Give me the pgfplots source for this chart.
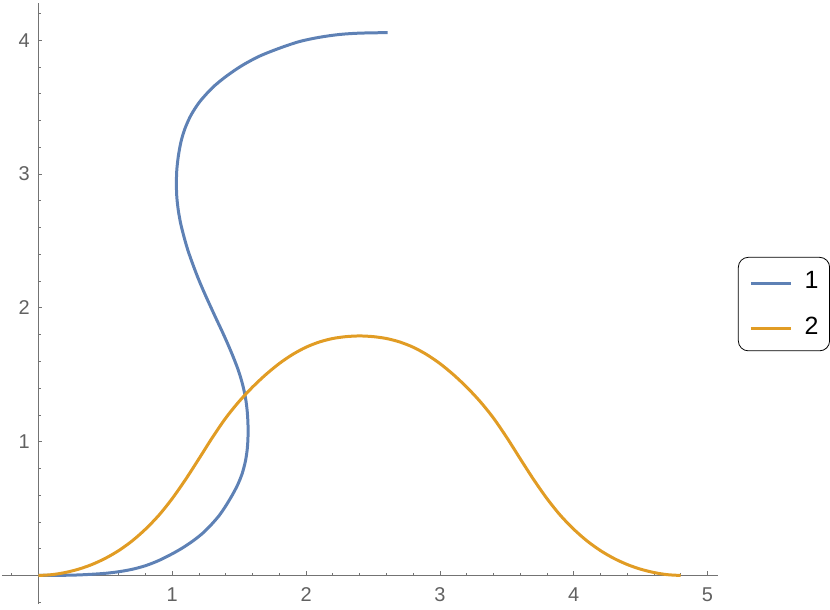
\documentclass[border=0pt]{standalone}
\usepackage{pgfplots}
\pgfplotsset{compat=1.18}
\usepackage{fontspec}
\setmainfont{Liberation Sans}
\definecolor{mblue}{rgb}{0.368417,0.506779,0.709798}
\definecolor{morange}{rgb}{0.880722,0.611041,0.142051}
\definecolor{axgray}{rgb}{0.45,0.45,0.45}
\definecolor{lblgray}{rgb}{0.38,0.38,0.38}
\begin{document}
\begin{tikzpicture}
\begin{axis}[
  x=134bp, y=134bp,
  xmin=-0.273, xmax=5.08, ymin=-0.214, ymax=4.28,
  axis lines=middle,
  axis line style={-, draw=axgray, line width=0.8bp},
  every inner x axis line/.append style={-},
  every inner y axis line/.append style={-},
  tick align=inside,
  major tick length=4bp, minor tick length=2.5bp,
  tick style={draw=axgray, line width=0.7bp},
  xtick={1,2,3,4,5}, ytick={1,2,3,4},
  minor xtick={-0.2,0.2,0.4,0.6,0.8,1.2,1.4,1.6,1.8,2.2,2.4,2.6,2.8,3.2,3.4,3.6,3.8,4.2,4.4,4.6,4.8},
  minor ytick={-0.2,0.2,0.4,0.6,0.8,1.2,1.4,1.6,1.8,2.2,2.4,2.6,2.8,3.2,3.4,3.6,3.8,4.2},
  /pgf/number format/assume math mode=true,
  ticklabel style={font=\fontsize{20bp}{24bp}\selectfont, text=lblgray, inner sep=0pt},
  xticklabel style={anchor=north, yshift=-12bp},
  yticklabel style={anchor=east, xshift=-8.5bp},
  clip=false,
  legend style={at={(axis cs:5.2276,2.3806)}, anchor=north west,
    draw=black, line width=0.8bp, rounded corners=10bp,
    inner xsep=11bp, inner ysep=14.5bp, row sep=27bp,
    font=\fontsize{25bp}{30bp}\selectfont,
    nodes={inner sep=0pt},
    /tikz/every odd column/.append style={column sep=12.5bp}},
  legend cell align=left,
  legend image code/.code={\draw[#1] (0bp,-2bp) -- (40bp,-2bp); \path (0bp,2bp);},
]
\path (axis cs:-0.2873,-0.2515) rectangle (axis cs:5.907,4.3007);
\addplot[mblue, line width=3bp, smooth, line join=round] coordinates {
(0,0) (0.2,0.0015) (0.3,0.004) (0.4,0.009) (0.5,0.016) (0.6,0.028) (0.7,0.046)
(0.8,0.073) (0.9,0.112) (1.0,0.162) (1.08,0.208) (1.16,0.262) (1.23,0.318)
(1.29,0.378) (1.35,0.447) (1.40,0.52) (1.45,0.603) (1.49,0.68) (1.522,0.76) (1.546,0.85)
(1.560,0.94) (1.566,1.03) (1.566,1.13) (1.560,1.23) (1.547,1.33) (1.525,1.43)
(1.495,1.53) (1.457,1.63) (1.415,1.73) (1.370,1.83) (1.323,1.93) (1.277,2.03)
(1.232,2.13) (1.190,2.23) (1.152,2.33) (1.117,2.43) (1.088,2.53) (1.063,2.63)
(1.045,2.73) (1.034,2.83) (1.031,2.93) (1.034,3.03) (1.045,3.13) (1.065,3.24)
(1.095,3.34) (1.14,3.44) (1.205,3.54) (1.30,3.645) (1.40,3.728) (1.52,3.81)
(1.65,3.88) (1.80,3.94) (1.95,3.99) (2.10,4.022) (2.25,4.043) (2.40,4.053)
(2.61,4.057)
};
\addlegendentry{1}
\addplot[morange, line width=3bp, smooth, line join=round] coordinates {
(0,0) (0.1,0.006) (0.2,0.022) (0.3,0.047) (0.4,0.082) (0.5,0.128) (0.6,0.186)
(0.7,0.258) (0.8,0.346) (0.9,0.450) (1.0,0.575) (1.1,0.718) (1.2,0.873)
(1.3,1.031) (1.4,1.177) (1.5,1.301) (1.6,1.408) (1.7,1.502) (1.8,1.584)
(1.9,1.652) (2.0,1.706) (2.1,1.745) (2.2,1.771) (2.3,1.785) (2.4,1.790)
(2.5,1.785) (2.6,1.771) (2.7,1.745) (2.8,1.706) (2.9,1.652) (3.0,1.584)
(3.1,1.502) (3.2,1.408) (3.3,1.301) (3.4,1.177) (3.5,1.031) (3.6,0.873)
(3.7,0.718) (3.8,0.575) (3.9,0.450) (4.0,0.346) (4.1,0.258) (4.2,0.186)
(4.3,0.128) (4.4,0.082) (4.5,0.047) (4.6,0.022) (4.7,0.006) (4.8,0)
};
\addlegendentry{2}
\end{axis}
\end{tikzpicture}
\end{document}
